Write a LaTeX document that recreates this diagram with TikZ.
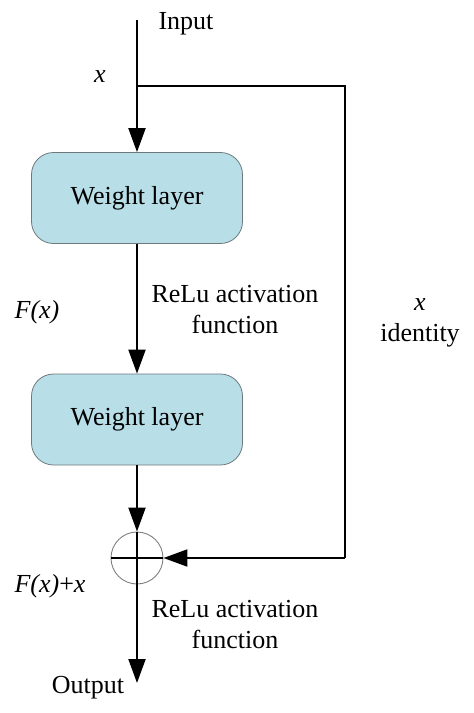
\documentclass[tikz,border=0pt]{standalone}
\usepackage{fontspec}
\setmainfont{Liberation Serif}
\usetikzlibrary{arrows.meta}
\definecolor{boxblue}{RGB}{184,222,232}
\definecolor{boxedge}{RGB}{110,120,125}
\begin{document}
\begin{tikzpicture}[x=1pt,y=-1pt,
  wbox/.style={draw=boxedge, fill=boxblue, rounded corners=22pt, minimum width=211pt, minimum height=91pt, line width=0.8pt, font=\fontsize{26}{31}\selectfont},
  lbl/.style={font=\fontsize{26}{31}\selectfont, inner sep=0pt, align=center},
  wire/.style={line width=2pt},
  conn/.style={wire, -{Triangle[length=24pt,width=17pt]}},
  sumnode/.style={circle, draw=gray, line width=0.9pt, minimum size=52pt, inner sep=0pt}
]
\useasboundingbox (0,0) rectangle (474,713);
\coordinate (top) at (137,20);
\coordinate (split) at (137,86);
\node[wbox] (w1) at (137,198) {Weight layer};
\node[wbox] (w2) at (137,419.5) {Weight layer};
\node[sumnode] (add) at (137,558) {};
\coordinate (out) at (137,683);
\coordinate (c1) at (345,86);
\coordinate (c2) at (345,558);

\draw[wire] (top) -- (split);
\draw[conn] (split) -- (w1.north);
\draw[conn] (w1.south) -- (w2.north);
\draw[conn] (w2.south) -- (add.north);
\draw[conn] (add.south) -- (out);
\draw[wire] (add.north) -- (add.south);
\draw[wire] (add.west) -- (add.east);
\draw[wire] (split) -- (c1) -- (c2);
\draw[conn] (c2) -- (add.east);

\node[lbl] (lin) at (186,24) {Input};
\node[lbl] (lx) at (100,77) {\textit{x}};
\node[lbl] (lfx) at (37,312) {\textit{F(x)}};
\node[lbl] (lrelu1) at (235,310) {ReLu activation\\function};
\node[lbl] (lid) at (420,323) {\textit{x}\\identity};
\node[lbl] (lsum) at (50,586) {\textit{F(x)}+\textit{x}};
\node[lbl] (lrelu2) at (235,625) {ReLu activation\\function};
\node[lbl] (lout) at (88,688) {Output};
\end{tikzpicture}
\end{document}
